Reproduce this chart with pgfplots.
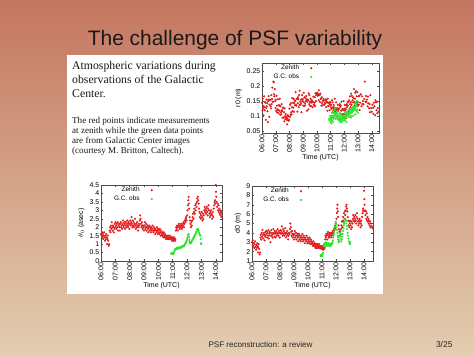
\documentclass[border=0pt]{standalone}
\usepackage{pgfplots}
\pgfplotsset{compat=1.18}
\usepackage{fontspec}
\setmainfont{Liberation Sans}
\newfontfamily\timesfont{Liberation Serif}
\definecolor{bgtop}{RGB}{196,118,96}
\definecolor{bgmid}{RGB}{214,168,138}
\definecolor{bgbot}{RGB}{227,205,176}
\definecolor{zred}{RGB}{228,28,28}
\definecolor{gcgreen}{RGB}{45,228,45}
\pgfplotsset{
  zen/.style={only marks, mark=*, mark size=0.85pt, color=zred, mark options={draw=zred, fill=zred}},
  gc/.style={only marks, mark=*, mark size=0.85pt, color=gcgreen, mark options={draw=gcgreen, fill=gcgreen}},
  psfax/.style={
    scale only axis,
    xmin=6, xtick={6,...,14},
    xticklabels={06:00,07:00,08:00,09:00,10:00,11:00,12:00,13:00,14:00},
    xticklabel style={rotate=90, anchor=east, font=\fontsize{7}{8}\selectfont, inner sep=1.5pt},
    yticklabel style={font=\fontsize{7}{8}\selectfont, inner sep=1.5pt},
    /pgf/number format/assume math mode=true,
    xlabel={Time (UTC)},
    label style={font=\fontsize{7}{8}\selectfont},
    xlabel style={yshift=3pt},
    axis line style={black!70, line width=0.5pt},
    tick style={black!70, line width=0.4pt},
    major tick length=2.5pt,
    legend plot pos=right,
    legend cell align=right,
    legend image code/.code={\path (0pt,0pt) (13pt,0pt); \draw[##1] plot coordinates {(10pt,0pt)};},
    legend style={draw=none, fill=none, font=\fontsize{6.5}{7}\selectfont, inner sep=0pt, row sep=-1.5pt, at={(0.08,1.0)}, anchor=north west},
  },
}
\begin{document}
\begin{tikzpicture}[x=1bp,y=1bp]
\path[use as bounding box] (0,0) rectangle (474,355);
\shade[top color=bgtop, middle color=bgmid, bottom color=bgbot] (0,0) rectangle (474,355);
\node[anchor=base, font=\fontsize{21}{25}\selectfont, text=black!90] at (235,310) {The challenge of PSF variability};
\fill[white] (67,61) rectangle (383,300);
\begin{scope}[every node/.style={anchor=base west, inner sep=0pt, font=\timesfont\fontsize{11.8}{14}\selectfont, text=black!90}]
\node at (72,285.5) {Atmospheric variations during};
\node at (72,271.5) {observations of the Galactic};
\node at (72,257.5) {Center.};
\end{scope}
\begin{scope}[every node/.style={anchor=base west, inner sep=0pt, font=\timesfont\fontsize{9.1}{10}\selectfont, text=black!90}]
\node at (72,231.7) {The red points indicate measurements};
\node at (72,221.7) {at zenith while the green data points};
\node at (72,211.7) {are from Galactic Center images};
\node at (72,201.7) {(courtesy M. Britton, Caltech).};
\end{scope}
\node[anchor=base west, font=\fontsize{8.1}{10}\selectfont, text=black!85] at (205,7.5) {PSF reconstruction: a review};
\node[anchor=base east, font=\fontsize{8.5}{10}\selectfont, text=black!85] at (456,7.5) {3/25};

% ---------- r0 ----------
\begin{axis}[psfax, at={(262bp,222bp)}, anchor=south west, width=117bp, height=70bp,
  xmax=14.53, ymin=0.043, ymax=0.276,
  ytick={0.05,0.1,0.15,0.2,0.25}, yticklabels={0.05,0.1,0.15,0.2,0.25},
  ylabel={r0 (m)}]
\addplot[zen] coordinates {
(6.00,0.144) (6.03,0.117) (6.05,0.157) (6.08,0.124) (6.10,0.102) (6.12,0.132) (6.15,0.165) (6.17,0.129) (6.20,0.119) (6.22,0.146)
(6.25,0.144) (6.28,0.087) (6.30,0.127) (6.33,0.154) (6.35,0.132) (6.38,0.142) (6.40,0.115) (6.43,0.079) (6.45,0.149) (6.48,0.166)
(6.50,0.154) (6.53,0.097) (6.55,0.137) (6.58,0.154) (6.60,0.152) (6.63,0.132) (6.65,0.125) (6.68,0.169) (6.70,0.139) (6.73,0.156)
(6.75,0.194) (6.78,0.147) (6.80,0.147) (6.83,0.214) (6.85,0.212) (6.88,0.172) (6.90,0.165) (6.93,0.189) (6.95,0.149) (6.98,0.126)
(7.00,0.154) (7.03,0.117) (7.05,0.167) (7.08,0.134) (7.10,0.112) (7.13,0.122) (7.15,0.155) (7.18,0.119) (7.20,0.109) (7.23,0.136)
(7.25,0.134) (7.28,0.117) (7.30,0.157) (7.33,0.104) (7.35,0.132) (7.38,0.112) (7.40,0.105) (7.43,0.139) (7.45,0.119) (7.48,0.116)
(7.50,0.094) (7.53,0.127) (7.55,0.127) (7.58,0.094) (7.60,0.112) (7.63,0.082) (7.65,0.125) (7.68,0.099) (7.70,0.089) (7.73,0.106)
(7.75,0.094) (7.78,0.097) (7.80,0.087) (7.83,0.072) (7.85,0.092) (7.88,0.102) (7.90,0.085) (7.93,0.099) (7.95,0.084) (7.98,0.086)
(8.00,0.124) (8.03,0.097) (8.05,0.137) (8.08,0.104) (8.10,0.142) (8.13,0.112) (8.15,0.105) (8.18,0.129) (8.20,0.159) (8.23,0.116)
(8.25,0.144) (8.28,0.127) (8.30,0.157) (8.33,0.114) (8.35,0.142) (8.38,0.152) (8.40,0.135) (8.43,0.149) (8.45,0.179) (8.48,0.136)
(8.50,0.134) (8.53,0.157) (8.55,0.157) (8.58,0.114) (8.60,0.142) (8.63,0.162) (8.65,0.155) (8.68,0.129) (8.70,0.169) (8.73,0.136)
(8.75,0.184) (8.78,0.147) (8.80,0.137) (8.83,0.154) (8.85,0.142) (8.88,0.112) (8.90,0.155) (8.93,0.169) (8.95,0.149) (8.98,0.156)
(9.00,0.134) (9.03,0.147) (9.05,0.177) (9.08,0.134) (9.10,0.162) (9.13,0.142) (9.15,0.135) (9.18,0.159) (9.20,0.149) (9.23,0.166)
(9.25,0.154) (9.28,0.117) (9.30,0.147) (9.33,0.154) (9.35,0.152) (9.38,0.122) (9.40,0.175) (9.43,0.139) (9.45,0.169) (9.48,0.146)
(9.50,0.134) (9.53,0.157) (9.55,0.147) (9.58,0.144) (9.60,0.132) (9.63,0.152) (9.65,0.145) (9.68,0.149) (9.70,0.129) (9.73,0.146)
(9.75,0.164) (9.78,0.137) (9.80,0.137) (9.83,0.144) (9.85,0.162) (9.88,0.132) (9.90,0.175) (9.93,0.149) (9.95,0.169) (9.98,0.176)
(10.00,0.174) (10.03,0.177) (10.05,0.167) (10.08,0.169) (10.10,0.172) (10.13,0.152) (10.15,0.185) (10.18,0.169) (10.20,0.169) (10.23,0.146)
(10.25,0.174) (10.28,0.157) (10.30,0.157) (10.33,0.134) (10.35,0.162) (10.38,0.142) (10.40,0.135) (10.43,0.149) (10.45,0.149) (10.48,0.156)
(10.50,0.154) (10.53,0.137) (10.55,0.137) (10.58,0.144) (10.60,0.142) (10.63,0.152) (10.65,0.155) (10.68,0.129) (10.70,0.149) (10.73,0.146)
(10.75,0.144) (10.78,0.117) (10.80,0.157) (10.83,0.134) (10.85,0.132) (10.88,0.142) (10.90,0.145) (10.93,0.119) (10.95,0.139) (10.98,0.146)
(11.00,0.134) (11.03,0.137) (11.05,0.127) (11.08,0.124) (11.10,0.152) (11.13,0.112) (11.15,0.145) (11.18,0.129) (11.20,0.119) (11.23,0.136)
(11.25,0.124) (11.28,0.127) (11.30,0.157) (11.33,0.114) (11.35,0.112) (11.38,0.122) (11.40,0.145) (11.43,0.119) (11.45,0.109) (11.48,0.126)
(11.50,0.124) (11.53,0.137) (11.55,0.117) (11.58,0.124) (11.60,0.122) (11.63,0.092) (11.65,0.135) (11.68,0.139) (11.70,0.129) (11.73,0.106)
(11.75,0.134) (11.78,0.117) (11.80,0.147) (11.83,0.104) (11.85,0.122) (11.88,0.122) (11.90,0.105) (11.93,0.119) (11.95,0.149) (11.98,0.106)
(12.00,0.124) (12.03,0.137) (12.05,0.117) (12.08,0.124) (12.10,0.122) (12.13,0.092) (12.15,0.135) (12.18,0.139) (12.20,0.129) (12.23,0.146)
(12.25,0.134) (12.28,0.107) (12.30,0.147) (12.33,0.114) (12.35,0.152) (12.38,0.122) (12.40,0.165) (12.43,0.139) (12.45,0.129) (12.48,0.146)
(12.50,0.174) (12.53,0.137) (12.55,0.167) (12.58,0.124) (12.60,0.152) (12.63,0.162) (12.65,0.145) (12.68,0.159) (12.70,0.189) (12.73,0.146)
(12.75,0.134) (12.78,0.157) (12.80,0.177) (12.83,0.134) (12.85,0.182) (12.88,0.142) (12.90,0.165) (12.93,0.139) (12.95,0.179) (12.98,0.146)
(13.00,0.134) (13.05,0.137) (13.10,0.167) (13.15,0.144) (13.20,0.172) (13.25,0.132) (13.30,0.165) (13.35,0.149) (13.40,0.139) (13.45,0.156)
(13.50,0.214) (13.55,0.147) (13.60,0.147) (13.65,0.154) (13.70,0.132) (13.75,0.142) (13.80,0.125) (13.85,0.139) (13.90,0.169) (13.95,0.126)
(14.00,0.114) (14.05,0.137) (14.10,0.127) (14.15,0.144) (14.20,0.132) (14.25,0.102) (14.30,0.145) (14.35,0.119) (14.40,0.109) (14.45,0.126)
(14.50,0.114) (14.38,0.147) (14.12,0.107) (13.72,0.164) (13.88,0.112) (14.28,0.152) (13.02,0.165) (13.12,0.119) (13.32,0.139) (13.58,0.166)
};
\addlegendentry{Zenith}
\addplot[gc] coordinates {
(10.90,0.09) (10.92,0.085) (10.95,0.10) (10.97,0.09) (11.00,0.08) (11.02,0.095) (11.05,0.09) (11.07,0.10) (11.10,0.085) (11.12,0.11)
(11.15,0.095) (11.17,0.10) (11.20,0.09) (11.22,0.11) (11.25,0.10) (11.27,0.12) (11.30,0.095) (11.32,0.105) (11.35,0.11) (11.37,0.09)
(11.40,0.10) (11.42,0.11) (11.45,0.095) (11.47,0.10) (11.50,0.09) (11.52,0.105) (11.55,0.10) (11.57,0.09) (11.60,0.085) (11.62,0.10)
(11.65,0.09) (11.67,0.095) (11.70,0.08) (11.72,0.09) (11.75,0.085) (11.77,0.10) (11.80,0.09) (11.82,0.08) (11.85,0.095) (11.87,0.09)
(11.90,0.10) (11.92,0.085) (11.95,0.095) (11.97,0.10) (12.00,0.09) (12.02,0.10) (12.05,0.095) (12.07,0.11) (12.10,0.10) (12.12,0.105)
(12.15,0.095) (12.17,0.11) (12.20,0.10) (12.22,0.115) (12.25,0.105) (12.27,0.11) (12.30,0.10) (12.32,0.12) (12.35,0.11) (12.37,0.105)
(12.40,0.115) (12.42,0.12) (12.45,0.11) (12.47,0.10) (12.50,0.115) (12.52,0.12) (12.55,0.11) (12.57,0.125) (12.60,0.12) (12.62,0.13)
(12.65,0.115) (12.67,0.125) (12.70,0.13) (12.72,0.12) (12.75,0.14) (12.77,0.125) (12.80,0.13) (12.82,0.145) (12.85,0.12) (12.87,0.135)
(12.90,0.14) (12.92,0.15) (12.95,0.13) (12.97,0.12) (13.00,0.11) (11.05,0.075) (11.35,0.125) (11.65,0.11) (12.15,0.08) (12.50,0.095)
(12.80,0.105) (11.18,0.08) (11.48,0.115) (11.78,0.105) (12.05,0.085) (12.35,0.095) (12.65,0.10) (12.90,0.115)
};
\addlegendentry{G.C. obs}
\end{axis}

% ---------- theta0 ----------
\begin{axis}[psfax, at={(101bp,94bp)}, anchor=south west, width=121bp, height=76bp,
  xmax=14.44, ymin=0, ymax=4.5,
  ytick={0,0.5,1,1.5,2,2.5,3,3.5,4,4.5}, yticklabels={0,0.5,1,1.5,2,2.5,3,3.5,4,4.5},
  ylabel={$\theta_0$ (asec)}, legend style={at={(0.09,1.0)}}]
\addplot[zen] coordinates {
(6.00,1.6) (6.04,1.5) (6.07,1.7) (6.10,1.4) (6.13,1.6) (6.16,1.3) (6.19,1.5) (6.22,1.7) (6.25,1.4) (6.28,1.2)
(6.31,1.5) (6.34,1.3) (6.37,1.6) (6.40,1.4) (6.42,1.0) (6.45,1.3) (6.48,1.5) (6.51,1.2) (6.54,0.9) (6.57,1.0)
(6.60,1.8) (6.63,2.0) (6.66,1.7) (6.69,2.1) (6.72,1.9) (6.75,2.3) (6.78,2.0) (6.81,1.8) (6.84,2.1) (6.87,2.0)
(6.90,1.7) (6.93,1.9) (6.96,2.2) (6.99,2.0) (7.02,2.3) (7.05,2.1) (7.08,1.9) (7.11,2.2) (7.14,2.0) (7.17,2.3)
(7.20,1.8) (7.23,2.1) (7.26,2.2) (7.29,2.0) (7.32,1.8) (7.35,2.2) (7.38,2.3) (7.41,2.0) (7.44,2.1) (7.47,1.9)
(7.50,2.2) (7.53,2.4) (7.56,2.1) (7.59,2.0) (7.62,2.3) (7.65,2.2) (7.68,1.9) (7.71,2.1) (7.74,2.3) (7.77,2.0)
(7.80,2.2) (7.83,2.4) (7.86,2.1) (7.89,2.0) (7.92,2.3) (7.95,2.2) (7.98,1.9) (8.01,2.2) (8.04,2.4) (8.07,2.1)
(8.10,2.3) (8.13,2.6) (8.16,2.2) (8.19,2.0) (8.22,2.4) (8.25,2.1) (8.28,2.3) (8.31,2.0) (8.34,2.2) (8.37,2.5)
(8.40,2.1) (8.43,1.9) (8.46,2.2) (8.49,2.0) (8.52,2.3) (8.55,2.1) (8.58,1.8) (8.61,2.0) (8.64,2.2) (8.67,2.1)
(8.70,2.4) (8.73,2.7) (8.76,2.5) (8.79,2.2) (8.82,2.0) (8.85,2.3) (8.88,2.1) (8.91,1.9) (8.94,2.1) (8.97,2.0)
(9.00,1.8) (9.03,2.1) (9.06,2.3) (9.09,1.9) (9.12,2.0) (9.15,2.2) (9.18,1.8) (9.21,2.0) (9.24,2.1) (9.27,1.9)
(9.30,1.7) (9.33,2.0) (9.36,2.1) (9.39,1.8) (9.42,2.0) (9.45,1.9) (9.48,1.7) (9.51,2.0) (9.54,1.8) (9.57,1.9)
(9.60,2.1) (9.63,1.8) (9.66,1.7) (9.69,2.0) (9.72,1.9) (9.75,1.8) (9.78,1.6) (9.81,1.9) (9.84,1.8) (9.87,1.7)
(9.90,2.0) (9.93,1.8) (9.96,1.6) (9.99,1.9) (10.02,1.7) (10.05,1.8) (10.08,1.6) (10.11,1.9) (10.14,1.7) (10.17,1.5)
(10.20,1.8) (10.23,1.6) (10.26,1.7) (10.29,1.5) (10.32,1.6) (10.35,1.4) (10.38,1.7) (10.41,1.5) (10.44,1.4) (10.47,1.6)
(10.50,1.5) (10.53,1.3) (10.56,1.4) (10.59,1.5) (10.62,1.3) (10.65,1.4) (10.68,1.5) (10.71,1.3) (10.74,1.4) (10.77,1.3)
(10.80,1.5) (10.83,1.3) (10.86,1.4) (10.89,1.3) (10.92,1.4) (10.95,1.2) (10.98,1.3) (11.01,1.4) (11.04,1.3) (11.07,1.2)
(11.10,1.4) (11.13,1.3) (11.16,1.2) (11.19,1.3) (11.22,1.8) (11.25,2.0) (11.28,1.9) (11.31,2.1) (11.34,2.0) (11.37,1.8)
(11.40,2.1) (11.43,2.2) (11.46,2.0) (11.49,1.9) (11.52,2.1) (11.55,2.0) (11.58,2.2) (11.61,2.1) (11.64,1.9) (11.67,2.0)
(11.70,2.2) (11.73,2.1) (11.76,2.3) (11.79,2.0) (11.82,2.2) (11.85,2.4) (11.88,2.3) (11.91,2.5) (11.94,2.6) (11.97,2.4)
(12.00,2.7) (12.03,3.0) (12.06,3.3) (12.09,3.6) (12.11,3.8) (12.13,3.4) (12.15,3.1) (12.18,2.6) (12.21,2.4) (12.24,2.2)
(12.27,2.0) (12.30,2.3) (12.33,2.1) (12.36,2.4) (12.39,2.6) (12.42,2.8) (12.45,2.5) (12.48,2.9) (12.51,3.1) (12.54,2.8)
(12.57,3.3) (12.60,3.0) (12.63,3.4) (12.66,3.2) (12.69,3.5) (12.72,3.7) (12.75,3.8) (12.78,3.6) (12.81,3.4) (12.84,3.1)
(12.87,2.9) (12.90,2.6) (12.93,2.8) (12.96,2.5) (12.99,2.7) (13.02,2.9) (13.05,2.6) (13.08,2.4) (13.11,2.8) (13.14,2.5)
(13.17,2.7) (13.20,3.0) (13.23,3.2) (13.26,2.9) (13.29,3.1) (13.32,2.8) (13.35,3.0) (13.38,3.2) (13.41,2.9) (13.44,2.7)
(13.47,3.1) (13.50,3.3) (13.53,3.0) (13.56,2.8) (13.59,2.6) (13.62,2.9) (13.65,2.7) (13.68,3.0) (13.71,2.8) (13.74,2.5)
(13.77,2.7) (13.80,2.9) (13.83,2.6) (13.86,3.1) (13.89,3.3) (13.92,3.5) (13.95,3.6) (13.98,3.4) (14.00,4.5) (14.02,4.1)
(14.04,3.8) (14.07,3.5) (14.10,3.2) (14.13,3.4) (14.16,3.0) (14.19,3.3) (14.22,2.9) (14.25,3.1) (14.28,2.8) (14.31,3.0)
(14.34,2.7) (14.37,2.9) (14.40,2.6) (14.43,2.8) (14.46,2.5) (14.49,2.7)
};
\addlegendentry{Zenith}
\addplot[gc] coordinates {
(10.90,0.45) (10.93,0.42) (10.96,0.48) (10.99,0.44) (11.02,0.40) (11.05,0.46) (11.08,0.50) (11.11,0.55) (11.14,0.65) (11.17,0.70)
(11.20,0.68) (11.23,0.72) (11.26,0.75) (11.29,0.70) (11.32,0.78) (11.35,0.74) (11.38,0.76) (11.41,0.80) (11.44,0.77) (11.47,0.75)
(11.50,0.80) (11.53,0.78) (11.56,0.82) (11.59,0.80) (11.62,0.85) (11.65,0.83) (11.68,0.88) (11.71,0.86) (11.74,0.90) (11.77,0.87)
(11.80,0.92) (11.83,0.95) (11.86,1.00) (11.89,1.05) (11.92,1.10) (11.95,1.15) (11.98,1.20) (12.01,1.30) (12.04,1.40) (12.07,1.50)
(12.10,1.60) (12.12,1.55) (12.14,1.40) (12.16,1.25) (12.18,1.15) (12.20,1.10) (12.23,1.05) (12.26,1.12) (12.29,1.08) (12.32,1.15)
(12.35,1.20) (12.38,1.25) (12.41,1.30) (12.44,1.35) (12.47,1.40) (12.50,1.45) (12.53,1.50) (12.56,1.55) (12.59,1.60) (12.62,1.65)
(12.65,1.72) (12.68,1.78) (12.71,1.85) (12.74,1.90) (12.77,1.88) (12.80,1.80) (12.83,1.70) (12.86,1.65) (12.89,1.55) (12.92,1.50)
(12.95,1.30) (12.98,1.05) (13.00,1.00)
};
\addlegendentry{G.C. obs}
\end{axis}

% ---------- d0 ----------
\begin{axis}[psfax, at={(252bp,94bp)}, anchor=south west, width=121bp, height=75bp,
  xmax=14.64, ymin=1, ymax=9,
  ytick={1,2,3,4,5,6,7,8,9},
  ylabel={d0 (m)}, legend style={at={(0.075,1.0)}}]
\addplot[zen] coordinates {
(6.00,3.0) (6.04,2.7) (6.07,3.2) (6.10,2.6) (6.13,2.9) (6.16,2.4) (6.19,2.8) (6.22,3.1) (6.25,2.5) (6.28,2.2)
(6.31,2.7) (6.34,2.4) (6.37,2.9) (6.40,2.6) (6.42,1.9) (6.45,2.5) (6.48,2.8) (6.51,2.3) (6.54,1.7) (6.57,1.9)
(6.60,3.5) (6.63,3.8) (6.66,3.3) (6.69,4.0) (6.72,3.6) (6.75,4.3) (6.78,3.8) (6.81,3.4) (6.84,4.0) (6.87,3.8)
(6.90,3.2) (6.93,3.6) (6.96,4.1) (6.99,3.8) (7.02,4.2) (7.05,3.9) (7.08,3.5) (7.11,4.1) (7.14,3.7) (7.17,4.3)
(7.20,3.4) (7.23,3.9) (7.26,4.1) (7.29,3.7) (7.32,3.0) (7.35,4.0) (7.38,4.3) (7.41,3.7) (7.44,3.9) (7.47,3.5)
(7.50,4.0) (7.53,4.4) (7.56,3.9) (7.59,3.6) (7.62,4.2) (7.65,4.0) (7.68,3.5) (7.71,3.9) (7.74,4.2) (7.77,3.7)
(7.80,4.0) (7.83,4.4) (7.86,3.9) (7.89,3.7) (7.92,4.2) (7.95,4.0) (7.98,3.5) (8.01,4.0) (8.04,4.3) (8.07,3.9)
(8.10,4.2) (8.13,4.7) (8.16,4.0) (8.19,3.7) (8.22,4.4) (8.25,3.9) (8.28,4.2) (8.31,3.7) (8.34,4.0) (8.37,4.5)
(8.40,3.9) (8.43,3.5) (8.46,4.0) (8.49,3.7) (8.52,4.2) (8.55,3.9) (8.58,3.3) (8.61,3.7) (8.64,4.0) (8.67,3.9)
(8.70,4.4) (8.73,5.0) (8.76,4.6) (8.79,4.1) (8.82,3.7) (8.85,4.2) (8.88,3.9) (8.91,3.5) (8.94,3.9) (8.97,3.7)
(9.00,3.3) (9.03,3.9) (9.06,4.2) (9.09,3.5) (9.12,3.7) (9.15,4.0) (9.18,3.3) (9.21,3.7) (9.24,3.9) (9.27,3.5)
(9.30,3.1) (9.33,3.7) (9.36,3.9) (9.39,3.3) (9.42,3.7) (9.45,3.5) (9.48,3.1) (9.51,3.7) (9.54,3.3) (9.57,3.5)
(9.60,3.9) (9.63,3.3) (9.66,3.1) (9.69,3.7) (9.72,3.5) (9.75,3.3) (9.78,2.9) (9.81,3.5) (9.84,3.3) (9.87,3.1)
(9.90,3.7) (9.93,3.3) (9.96,2.9) (9.99,3.5) (10.02,3.1) (10.05,3.3) (10.08,2.9) (10.11,3.5) (10.14,3.1) (10.17,2.8)
(10.20,3.3) (10.23,2.9) (10.26,3.1) (10.29,2.8) (10.32,2.9) (10.35,2.6) (10.38,3.1) (10.41,2.8) (10.44,2.6) (10.47,2.9)
(10.50,2.8) (10.53,2.4) (10.56,2.6) (10.59,2.8) (10.62,2.4) (10.65,2.6) (10.68,2.8) (10.71,2.4) (10.74,2.6) (10.77,2.4)
(10.80,2.8) (10.83,2.4) (10.86,2.6) (10.89,2.4) (10.92,2.6) (10.95,2.3) (10.98,2.4) (11.01,2.6) (11.04,2.4) (11.07,2.2)
(11.10,2.6) (11.13,2.4) (11.16,2.3) (11.19,2.4) (11.22,3.3) (11.25,3.7) (11.28,3.5) (11.31,3.9) (11.34,3.7) (11.37,3.3)
(11.40,3.9) (11.43,4.1) (11.46,3.7) (11.49,3.5) (11.52,3.9) (11.55,3.7) (11.58,4.0) (11.61,3.9) (11.64,3.5) (11.67,3.7)
(11.70,4.0) (11.73,3.9) (11.76,4.2) (11.79,3.7) (11.82,4.0) (11.85,4.4) (11.88,4.2) (11.91,4.6) (11.94,4.8) (11.97,4.4)
(12.00,5.0) (12.03,5.5) (12.06,6.1) (12.09,6.6) (12.11,7.0) (12.13,6.3) (12.15,5.7) (12.18,4.8) (12.21,4.4) (12.24,4.1)
(12.27,3.7) (12.30,4.2) (12.33,3.9) (12.36,4.4) (12.39,4.8) (12.42,5.2) (12.45,4.6) (12.48,5.3) (12.51,5.7) (12.54,5.2)
(12.57,6.1) (12.60,5.5) (12.63,6.3) (12.66,5.9) (12.69,6.4) (12.72,6.8) (12.75,7.0) (12.78,6.6) (12.81,6.3) (12.84,5.7)
(12.87,5.3) (12.90,4.8) (12.93,5.2) (12.96,4.6) (12.99,5.0) (13.02,5.3) (13.05,4.8) (13.08,4.4) (13.11,5.2) (13.14,4.6)
(13.17,5.0) (13.20,5.5) (13.23,5.9) (13.26,5.3) (13.29,5.7) (13.32,5.2) (13.35,5.5) (13.38,5.9) (13.41,5.3) (13.44,5.0)
(13.47,5.7) (13.50,6.1) (13.53,5.5) (13.56,5.2) (13.59,4.8) (13.62,5.3) (13.65,5.0) (13.68,5.5) (13.71,5.2) (13.74,4.6)
(13.77,5.0) (13.80,5.3) (13.83,4.8) (13.86,5.7) (13.89,6.1) (13.92,6.4) (13.95,6.6) (13.98,6.3) (14.00,8.5) (14.02,7.6)
(14.04,7.0) (14.07,6.4) (14.10,5.9) (14.13,6.3) (14.16,5.5) (14.19,6.1) (14.22,5.3) (14.25,5.7) (14.28,5.2) (14.31,5.5)
(14.34,5.0) (14.37,5.3) (14.40,4.8) (14.43,5.2) (14.46,4.6) (14.49,5.0) (14.55,4.7) (14.60,4.5)
};
\addlegendentry{Zenith}
\addplot[gc] coordinates {
(10.90,1.6) (10.93,1.5) (10.96,1.7) (10.99,1.6) (11.02,1.5) (11.05,1.7) (11.08,1.9) (11.11,2.6) (11.14,2.8) (11.17,2.7)
(11.20,2.9) (11.23,2.6) (11.26,2.8) (11.29,3.0) (11.32,2.7) (11.35,2.9) (11.38,2.6) (11.41,2.8) (11.44,2.7) (11.47,2.9)
(11.50,2.6) (11.53,2.8) (11.56,2.7) (11.59,2.6) (11.62,2.8) (11.65,2.7) (11.68,2.9) (11.71,2.8) (11.74,3.0) (11.77,3.2)
(11.80,3.5) (11.83,3.8) (11.86,4.1) (11.89,4.4) (11.92,4.7) (11.95,5.0) (11.98,5.2) (12.01,4.9) (12.04,4.6) (12.07,4.3)
(12.10,4.0) (12.12,3.7) (12.14,3.5) (12.16,3.3) (12.18,3.1) (12.20,3.0) (12.23,3.2) (12.26,3.6) (12.29,4.0) (12.32,3.8)
(12.35,3.4) (12.38,3.1) (12.41,3.3) (12.44,3.6) (12.47,3.9) (12.50,4.2) (12.53,4.5) (12.56,4.8) (12.59,5.0) (12.62,5.2)
(12.65,5.4) (12.68,5.5) (12.71,5.3) (12.74,5.0) (12.77,4.7) (12.80,4.4) (12.83,4.0) (12.86,3.7) (12.89,3.4) (12.92,3.1)
(12.95,2.9) (12.98,2.8) (13.00,3.0)
};
\addlegendentry{G.C. obs}
\end{axis}
\end{tikzpicture}
\end{document}
